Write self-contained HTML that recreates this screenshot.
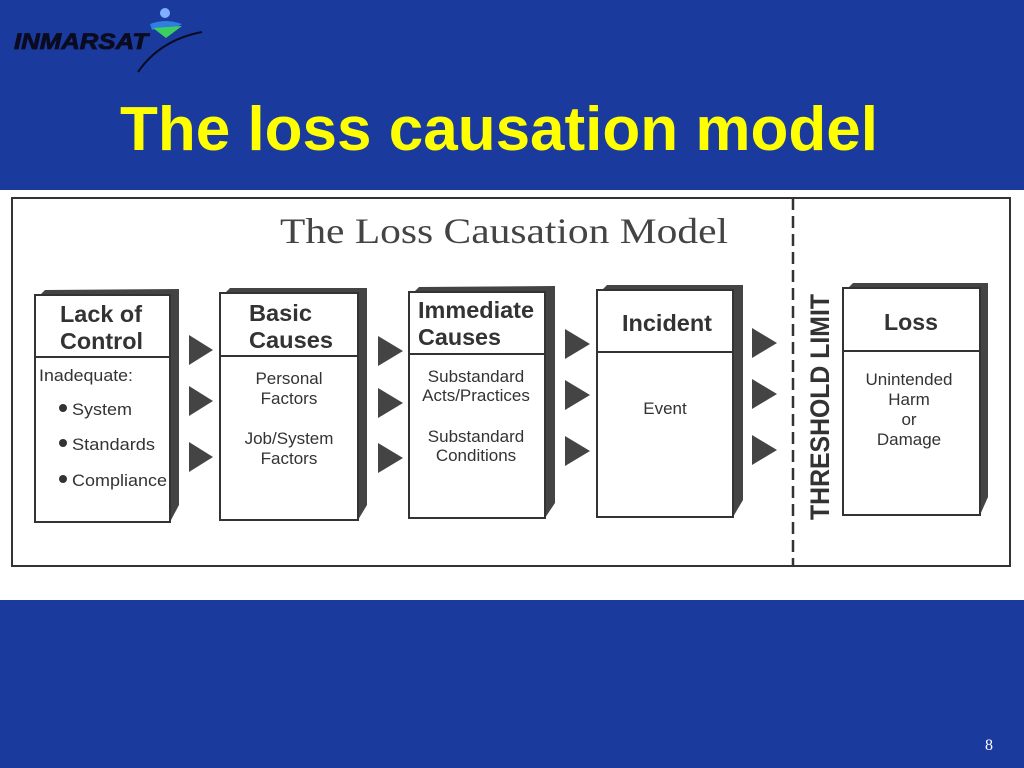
<!DOCTYPE html>
<html><head><meta charset="utf-8"><style>
body{margin:0;width:1024px;height:768px;background:#1a3a9e;position:relative;overflow:hidden;font-family:"Liberation Sans",sans-serif}
.t{position:absolute;left:120px;top:94px;font-size:62px;font-weight:bold;color:#ffff00;white-space:nowrap}
.w{position:absolute;left:0;top:190px;width:1024px;height:410px;background:#fff}
</style></head><body>
<svg style="position:absolute;left:0;top:0" width="260" height="90">
<text x="14" y="49" font-family="Liberation Sans" font-weight="bold" font-style="italic" font-size="22" fill="#0b0b20" stroke="#0b0b20" stroke-width="0.8" textLength="134" lengthAdjust="spacingAndGlyphs">INMARSAT</text>
<circle cx="165" cy="13" r="5" fill="#7fb0ff"/>
<path d="M150 24 Q165 18 182 24 L172 30 Q162 26 152 30Z" fill="#2f7fe0"/>
<path d="M153 28 L182 26 L166 38Z" fill="#3ccf60"/>
<path d="M138 72 Q160 40 202 32" stroke="#0b0b20" stroke-width="2" fill="none"/>
</svg>
<div class="t">The loss causation model</div>
<div class="w"></div>
<svg style="position:absolute;left:0;top:0" width="1024" height="768" font-family="Liberation Sans">
<rect x="12" y="198" width="998" height="368" fill="none" stroke="#333" stroke-width="2"/>
<line x1="793" y1="198" x2="793" y2="566" stroke="#333" stroke-width="2.5" stroke-dasharray="12,6"/>
<text x="280" y="243" font-family="Liberation Serif" font-size="36" fill="#444" textLength="448" lengthAdjust="spacingAndGlyphs">The Loss Causation Model</text>
<g fill="#444">
<path d="M40 295 L45 290 L179 289 L179 505 L170 522 L170 295Z"/>
<path d="M225 293 L230 288 L367 288 L367 505 L358 520 L358 293Z"/>
<path d="M414 292 L419 287 L555 286 L555 503 L545 518 L545 292Z"/>
<path d="M602 290 L607 285 L743 285 L743 500 L733 517 L733 290Z"/>
<path d="M848 288 L853 283 L988 283 L988 497 L980 515 L980 288Z"/>
</g>
<g fill="#fff" stroke="#333" stroke-width="2">
<rect x="35" y="295" width="135" height="227"/><line x1="35" y1="357" x2="170" y2="357"/>
<rect x="220" y="293" width="138" height="227"/><line x1="220" y1="356" x2="358" y2="356"/>
<rect x="409" y="292" width="136" height="226"/><line x1="409" y1="354" x2="545" y2="354"/>
<rect x="597" y="290" width="136" height="227"/><line x1="597" y1="352" x2="733" y2="352"/>
<rect x="843" y="288" width="137" height="227"/><line x1="843" y1="351" x2="980" y2="351"/>
</g>
<g fill="#444">
<path d="M189 335 L213 350 L189 365Z"/><path d="M189 386 L213 401 L189 416Z"/><path d="M189 442 L213 457 L189 472Z"/>
<path d="M378 336 L403 351 L378 366Z"/><path d="M378 388 L403 403 L378 418Z"/><path d="M378 443 L403 458 L378 473Z"/>
<path d="M565 329 L590 344 L565 359Z"/><path d="M565 380 L590 395 L565 410Z"/><path d="M565 436 L590 451 L565 466Z"/>
<path d="M752 328 L777 343 L752 358Z"/><path d="M752 379 L777 394 L752 409Z"/><path d="M752 435 L777 450 L752 465Z"/>
</g>
<g fill="#333" font-weight="bold" font-size="23">
<text x="60" y="322" textLength="82" lengthAdjust="spacingAndGlyphs">Lack of</text><text x="60" y="349" textLength="83" lengthAdjust="spacingAndGlyphs">Control</text>
<text x="249" y="321" textLength="63" lengthAdjust="spacingAndGlyphs">Basic</text><text x="249" y="348" textLength="84" lengthAdjust="spacingAndGlyphs">Causes</text>
<text x="418" y="318" textLength="116" lengthAdjust="spacingAndGlyphs">Immediate</text><text x="418" y="345" textLength="83" lengthAdjust="spacingAndGlyphs">Causes</text>
<text x="622" y="331" textLength="90" lengthAdjust="spacingAndGlyphs">Incident</text>
<text x="884" y="330" textLength="54" lengthAdjust="spacingAndGlyphs">Loss</text>
<text transform="translate(829,520) rotate(-90)" font-size="27" textLength="226" lengthAdjust="spacingAndGlyphs">THRESHOLD LIMIT</text>
</g>
<g fill="#333" font-size="17">
<text x="39" y="381" textLength="94" lengthAdjust="spacingAndGlyphs">Inadequate:</text>
<circle cx="63" cy="408" r="4"/><text x="72" y="415" textLength="60" lengthAdjust="spacingAndGlyphs">System</text>
<circle cx="63" cy="443" r="4"/><text x="72" y="450" textLength="83" lengthAdjust="spacingAndGlyphs">Standards</text>
<circle cx="63" cy="479" r="4"/><text x="72" y="486" textLength="95" lengthAdjust="spacingAndGlyphs">Compliance</text>
<g text-anchor="middle">
<text x="289" y="384">Personal</text><text x="289" y="404">Factors</text>
<text x="289" y="444">Job/System</text><text x="289" y="464">Factors</text>
<text x="476" y="382">Substandard</text><text x="476" y="401">Acts/Practices</text>
<text x="476" y="442">Substandard</text><text x="476" y="461">Conditions</text>
<text x="665" y="414">Event</text>
<text x="909" y="385">Unintended</text><text x="909" y="405">Harm</text><text x="909" y="425">or</text><text x="909" y="445">Damage</text>
</g></g>
<text x="985" y="750" font-family="Liberation Serif" font-size="16" fill="#fff">8</text>
</svg>
</body></html>
